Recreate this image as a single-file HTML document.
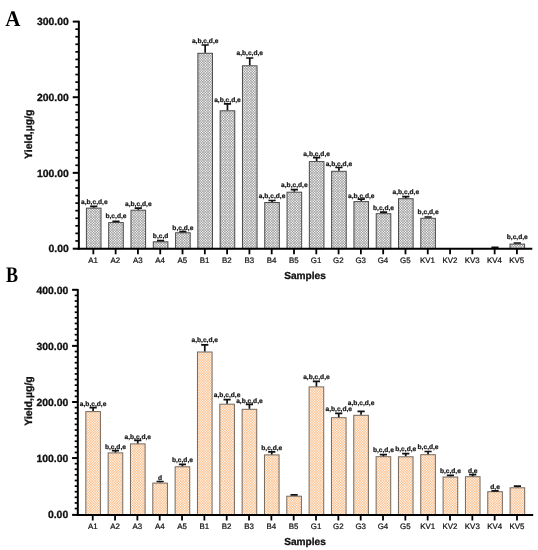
<!DOCTYPE html>
<html lang="en">
<head>
<meta charset="utf-8">
<title>Yield by sample</title>
<style>
html,body{margin:0;padding:0;background:#fff;}
body{width:538px;height:550px;overflow:hidden;}
svg{display:block;}
text{font-family:"Liberation Sans",Arial,sans-serif;fill:#111;text-rendering:geometricPrecision;}
.sig{font-size:6.65px;font-weight:bold;text-anchor:middle;stroke:#111;stroke-width:0.2px;}
.yl{font-size:10.4px;font-weight:bold;text-anchor:end;stroke:#111;stroke-width:0.3px;}
.xl{font-size:7.9px;text-anchor:middle;stroke:#111;stroke-width:0.22px;}
.ttl{font-size:10.5px;font-weight:bold;text-anchor:middle;stroke:#111;stroke-width:0.3px;}
.ttx{font-size:10.15px;}
.panel{font-family:"Liberation Serif","Times New Roman",serif;font-size:22.3px;font-weight:bold;text-anchor:start;fill:#000;}
</style>
</head>
<body>
<svg width="538" height="550" viewBox="0 0 538 550">
<defs>
<pattern id="pg" width="13" height="13" patternUnits="userSpaceOnUse">
<rect width="13" height="13" fill="#8c8c8c"/>
<path fill="#ffffff" d="M-0.90 0.00L0.00 -0.90L0.90 0.00L0.00 0.90ZM0.40 1.30L1.30 0.40L2.20 1.30L1.30 2.20ZM-0.90 2.60L0.00 1.70L0.90 2.60L0.00 3.50ZM0.40 3.90L1.30 3.00L2.20 3.90L1.30 4.80ZM-0.90 5.20L0.00 4.30L0.90 5.20L0.00 6.10ZM0.40 6.50L1.30 5.60L2.20 6.50L1.30 7.40ZM-0.90 7.80L0.00 6.90L0.90 7.80L0.00 8.70ZM0.40 9.10L1.30 8.20L2.20 9.10L1.30 10.00ZM-0.90 10.40L0.00 9.50L0.90 10.40L0.00 11.30ZM0.40 11.70L1.30 10.80L2.20 11.70L1.30 12.60ZM-0.90 13.00L0.00 12.10L0.90 13.00L0.00 13.90ZM1.70 0.00L2.60 -0.90L3.50 0.00L2.60 0.90ZM3.00 1.30L3.90 0.40L4.80 1.30L3.90 2.20ZM1.70 2.60L2.60 1.70L3.50 2.60L2.60 3.50ZM3.00 3.90L3.90 3.00L4.80 3.90L3.90 4.80ZM1.70 5.20L2.60 4.30L3.50 5.20L2.60 6.10ZM3.00 6.50L3.90 5.60L4.80 6.50L3.90 7.40ZM1.70 7.80L2.60 6.90L3.50 7.80L2.60 8.70ZM3.00 9.10L3.90 8.20L4.80 9.10L3.90 10.00ZM1.70 10.40L2.60 9.50L3.50 10.40L2.60 11.30ZM3.00 11.70L3.90 10.80L4.80 11.70L3.90 12.60ZM1.70 13.00L2.60 12.10L3.50 13.00L2.60 13.90ZM4.30 0.00L5.20 -0.90L6.10 0.00L5.20 0.90ZM5.60 1.30L6.50 0.40L7.40 1.30L6.50 2.20ZM4.30 2.60L5.20 1.70L6.10 2.60L5.20 3.50ZM5.60 3.90L6.50 3.00L7.40 3.90L6.50 4.80ZM4.30 5.20L5.20 4.30L6.10 5.20L5.20 6.10ZM5.60 6.50L6.50 5.60L7.40 6.50L6.50 7.40ZM4.30 7.80L5.20 6.90L6.10 7.80L5.20 8.70ZM5.60 9.10L6.50 8.20L7.40 9.10L6.50 10.00ZM4.30 10.40L5.20 9.50L6.10 10.40L5.20 11.30ZM5.60 11.70L6.50 10.80L7.40 11.70L6.50 12.60ZM4.30 13.00L5.20 12.10L6.10 13.00L5.20 13.90ZM6.90 0.00L7.80 -0.90L8.70 0.00L7.80 0.90ZM8.20 1.30L9.10 0.40L10.00 1.30L9.10 2.20ZM6.90 2.60L7.80 1.70L8.70 2.60L7.80 3.50ZM8.20 3.90L9.10 3.00L10.00 3.90L9.10 4.80ZM6.90 5.20L7.80 4.30L8.70 5.20L7.80 6.10ZM8.20 6.50L9.10 5.60L10.00 6.50L9.10 7.40ZM6.90 7.80L7.80 6.90L8.70 7.80L7.80 8.70ZM8.20 9.10L9.10 8.20L10.00 9.10L9.10 10.00ZM6.90 10.40L7.80 9.50L8.70 10.40L7.80 11.30ZM8.20 11.70L9.10 10.80L10.00 11.70L9.10 12.60ZM6.90 13.00L7.80 12.10L8.70 13.00L7.80 13.90ZM9.50 0.00L10.40 -0.90L11.30 0.00L10.40 0.90ZM10.80 1.30L11.70 0.40L12.60 1.30L11.70 2.20ZM9.50 2.60L10.40 1.70L11.30 2.60L10.40 3.50ZM10.80 3.90L11.70 3.00L12.60 3.90L11.70 4.80ZM9.50 5.20L10.40 4.30L11.30 5.20L10.40 6.10ZM10.80 6.50L11.70 5.60L12.60 6.50L11.70 7.40ZM9.50 7.80L10.40 6.90L11.30 7.80L10.40 8.70ZM10.80 9.10L11.70 8.20L12.60 9.10L11.70 10.00ZM9.50 10.40L10.40 9.50L11.30 10.40L10.40 11.30ZM10.80 11.70L11.70 10.80L12.60 11.70L11.70 12.60ZM9.50 13.00L10.40 12.10L11.30 13.00L10.40 13.90ZM12.10 0.00L13.00 -0.90L13.90 0.00L13.00 0.90ZM12.10 2.60L13.00 1.70L13.90 2.60L13.00 3.50ZM12.10 5.20L13.00 4.30L13.90 5.20L13.00 6.10ZM12.10 7.80L13.00 6.90L13.90 7.80L13.00 8.70ZM12.10 10.40L13.00 9.50L13.90 10.40L13.00 11.30ZM12.10 13.00L13.00 12.10L13.90 13.00L13.00 13.90Z"/>
</pattern>
<pattern id="po" width="13" height="13" patternUnits="userSpaceOnUse">
<rect width="13" height="13" fill="#fbb880"/>
<path fill="#fffcf8" d="M-0.90 0.00L0.00 -0.90L0.90 0.00L0.00 0.90ZM0.40 1.30L1.30 0.40L2.20 1.30L1.30 2.20ZM-0.90 2.60L0.00 1.70L0.90 2.60L0.00 3.50ZM0.40 3.90L1.30 3.00L2.20 3.90L1.30 4.80ZM-0.90 5.20L0.00 4.30L0.90 5.20L0.00 6.10ZM0.40 6.50L1.30 5.60L2.20 6.50L1.30 7.40ZM-0.90 7.80L0.00 6.90L0.90 7.80L0.00 8.70ZM0.40 9.10L1.30 8.20L2.20 9.10L1.30 10.00ZM-0.90 10.40L0.00 9.50L0.90 10.40L0.00 11.30ZM0.40 11.70L1.30 10.80L2.20 11.70L1.30 12.60ZM-0.90 13.00L0.00 12.10L0.90 13.00L0.00 13.90ZM1.70 0.00L2.60 -0.90L3.50 0.00L2.60 0.90ZM3.00 1.30L3.90 0.40L4.80 1.30L3.90 2.20ZM1.70 2.60L2.60 1.70L3.50 2.60L2.60 3.50ZM3.00 3.90L3.90 3.00L4.80 3.90L3.90 4.80ZM1.70 5.20L2.60 4.30L3.50 5.20L2.60 6.10ZM3.00 6.50L3.90 5.60L4.80 6.50L3.90 7.40ZM1.70 7.80L2.60 6.90L3.50 7.80L2.60 8.70ZM3.00 9.10L3.90 8.20L4.80 9.10L3.90 10.00ZM1.70 10.40L2.60 9.50L3.50 10.40L2.60 11.30ZM3.00 11.70L3.90 10.80L4.80 11.70L3.90 12.60ZM1.70 13.00L2.60 12.10L3.50 13.00L2.60 13.90ZM4.30 0.00L5.20 -0.90L6.10 0.00L5.20 0.90ZM5.60 1.30L6.50 0.40L7.40 1.30L6.50 2.20ZM4.30 2.60L5.20 1.70L6.10 2.60L5.20 3.50ZM5.60 3.90L6.50 3.00L7.40 3.90L6.50 4.80ZM4.30 5.20L5.20 4.30L6.10 5.20L5.20 6.10ZM5.60 6.50L6.50 5.60L7.40 6.50L6.50 7.40ZM4.30 7.80L5.20 6.90L6.10 7.80L5.20 8.70ZM5.60 9.10L6.50 8.20L7.40 9.10L6.50 10.00ZM4.30 10.40L5.20 9.50L6.10 10.40L5.20 11.30ZM5.60 11.70L6.50 10.80L7.40 11.70L6.50 12.60ZM4.30 13.00L5.20 12.10L6.10 13.00L5.20 13.90ZM6.90 0.00L7.80 -0.90L8.70 0.00L7.80 0.90ZM8.20 1.30L9.10 0.40L10.00 1.30L9.10 2.20ZM6.90 2.60L7.80 1.70L8.70 2.60L7.80 3.50ZM8.20 3.90L9.10 3.00L10.00 3.90L9.10 4.80ZM6.90 5.20L7.80 4.30L8.70 5.20L7.80 6.10ZM8.20 6.50L9.10 5.60L10.00 6.50L9.10 7.40ZM6.90 7.80L7.80 6.90L8.70 7.80L7.80 8.70ZM8.20 9.10L9.10 8.20L10.00 9.10L9.10 10.00ZM6.90 10.40L7.80 9.50L8.70 10.40L7.80 11.30ZM8.20 11.70L9.10 10.80L10.00 11.70L9.10 12.60ZM6.90 13.00L7.80 12.10L8.70 13.00L7.80 13.90ZM9.50 0.00L10.40 -0.90L11.30 0.00L10.40 0.90ZM10.80 1.30L11.70 0.40L12.60 1.30L11.70 2.20ZM9.50 2.60L10.40 1.70L11.30 2.60L10.40 3.50ZM10.80 3.90L11.70 3.00L12.60 3.90L11.70 4.80ZM9.50 5.20L10.40 4.30L11.30 5.20L10.40 6.10ZM10.80 6.50L11.70 5.60L12.60 6.50L11.70 7.40ZM9.50 7.80L10.40 6.90L11.30 7.80L10.40 8.70ZM10.80 9.10L11.70 8.20L12.60 9.10L11.70 10.00ZM9.50 10.40L10.40 9.50L11.30 10.40L10.40 11.30ZM10.80 11.70L11.70 10.80L12.60 11.70L11.70 12.60ZM9.50 13.00L10.40 12.10L11.30 13.00L10.40 13.90ZM12.10 0.00L13.00 -0.90L13.90 0.00L13.00 0.90ZM12.10 2.60L13.00 1.70L13.90 2.60L13.00 3.50ZM12.10 5.20L13.00 4.30L13.90 5.20L13.00 6.10ZM12.10 7.80L13.00 6.90L13.90 7.80L13.00 8.70ZM12.10 10.40L13.00 9.50L13.90 10.40L13.00 11.30ZM12.10 13.00L13.00 12.10L13.90 13.00L13.00 13.90Z"/>
</pattern>
</defs>
<rect width="538" height="550" fill="#fff"/>
<g id="chartA">
<rect x="86.40" y="208.15" width="14.60" height="40.55" fill="url(#pg)" stroke="#4a4a4a" stroke-width="1"/>
<path d="M93.70 207.65V206.30M90.10 206.30H97.30" stroke="#111" stroke-width="1.7" fill="none"/>
<text x="94.30" y="204" class="sig">a,b,c,d,e</text>
<rect x="108.69" y="222.60" width="14.60" height="26.10" fill="url(#pg)" stroke="#4a4a4a" stroke-width="1"/>
<path d="M115.99 222.10V221.30M112.39 221.30H119.59" stroke="#111" stroke-width="1.7" fill="none"/>
<text x="115.99" y="218" class="sig">b,c,d,e</text>
<rect x="130.99" y="210.20" width="14.60" height="38.50" fill="url(#pg)" stroke="#4a4a4a" stroke-width="1"/>
<path d="M138.29 209.70V208.20M134.69 208.20H141.89" stroke="#111" stroke-width="1.7" fill="none"/>
<text x="138.29" y="206" class="sig">a,b,c,d,e</text>
<rect x="153.28" y="241.80" width="14.60" height="6.90" fill="url(#pg)" stroke="#4a4a4a" stroke-width="1"/>
<path d="M160.58 241.30V240.60M156.98 240.60H164.18" stroke="#111" stroke-width="1.7" fill="none"/>
<text x="160.58" y="238" class="sig">b,c,d</text>
<rect x="175.58" y="232.80" width="14.60" height="15.90" fill="url(#pg)" stroke="#4a4a4a" stroke-width="1"/>
<path d="M182.88 232.30V231.70M179.28 231.70H186.48" stroke="#111" stroke-width="1.7" fill="none"/>
<text x="182.88" y="230" class="sig">b,c,d,e</text>
<rect x="197.87" y="53.30" width="14.60" height="195.40" fill="url(#pg)" stroke="#4a4a4a" stroke-width="1"/>
<path d="M205.17 52.80V45.00M201.57 45.00H208.77" stroke="#111" stroke-width="1.7" fill="none"/>
<text x="205.17" y="43" class="sig">a,b,c,d,e</text>
<rect x="220.16" y="110.80" width="14.60" height="137.90" fill="url(#pg)" stroke="#4a4a4a" stroke-width="1"/>
<path d="M227.46 110.30V103.90M223.86 103.90H231.06" stroke="#111" stroke-width="1.7" fill="none"/>
<text x="227.46" y="102" class="sig">a,b,c,d,e</text>
<rect x="242.46" y="65.80" width="14.60" height="182.90" fill="url(#pg)" stroke="#4a4a4a" stroke-width="1"/>
<path d="M249.76 65.30V58.00M246.16 58.00H253.36" stroke="#111" stroke-width="1.7" fill="none"/>
<text x="249.76" y="55" class="sig">a,b,c,d,e</text>
<rect x="264.75" y="202.50" width="14.60" height="46.20" fill="url(#pg)" stroke="#4a4a4a" stroke-width="1"/>
<path d="M272.05 202.00V200.50M268.45 200.50H275.65" stroke="#111" stroke-width="1.7" fill="none"/>
<text x="272.05" y="198" class="sig">a,b,c,d,e</text>
<rect x="287.05" y="192.20" width="14.60" height="56.50" fill="url(#pg)" stroke="#4a4a4a" stroke-width="1"/>
<path d="M294.35 191.70V189.60M290.75 189.60H297.95" stroke="#111" stroke-width="1.7" fill="none"/>
<text x="294.35" y="187" class="sig">a,b,c,d,e</text>
<rect x="309.34" y="161.60" width="14.60" height="87.10" fill="url(#pg)" stroke="#4a4a4a" stroke-width="1"/>
<path d="M316.64 161.10V157.60M313.04 157.60H320.24" stroke="#111" stroke-width="1.7" fill="none"/>
<text x="316.64" y="156" class="sig">a,b,c,d,e</text>
<rect x="331.63" y="171.30" width="14.60" height="77.40" fill="url(#pg)" stroke="#4a4a4a" stroke-width="1"/>
<path d="M338.93 170.80V167.50M335.33 167.50H342.53" stroke="#111" stroke-width="1.7" fill="none"/>
<text x="338.93" y="166" class="sig">a,b,c,d,e</text>
<rect x="353.93" y="201.60" width="14.60" height="47.10" fill="url(#pg)" stroke="#4a4a4a" stroke-width="1"/>
<path d="M361.23 201.10V199.10M357.63 199.10H364.83" stroke="#111" stroke-width="1.7" fill="none"/>
<text x="361.23" y="198" class="sig">a,b,c,d,e</text>
<rect x="376.22" y="213.70" width="14.60" height="35.00" fill="url(#pg)" stroke="#4a4a4a" stroke-width="1"/>
<path d="M383.52 213.20V212.10M379.92 212.10H387.12" stroke="#111" stroke-width="1.7" fill="none"/>
<text x="383.52" y="210" class="sig">b,c,d,e</text>
<rect x="398.52" y="198.70" width="14.60" height="50.00" fill="url(#pg)" stroke="#4a4a4a" stroke-width="1"/>
<path d="M405.82 198.20V196.60M402.22 196.60H409.42" stroke="#111" stroke-width="1.7" fill="none"/>
<text x="405.82" y="194" class="sig">a,b,c,d,e</text>
<rect x="420.81" y="218.30" width="14.60" height="30.40" fill="url(#pg)" stroke="#4a4a4a" stroke-width="1"/>
<path d="M428.11 217.80V217.00M424.51 217.00H431.71" stroke="#111" stroke-width="1.7" fill="none"/>
<text x="428.11" y="214" class="sig">b,c,d,e</text>
<path d="M494.99 248.70V247.30M491.39 247.30H498.59" stroke="#111" stroke-width="1.7" fill="none"/>
<rect x="509.99" y="244.10" width="14.60" height="4.60" fill="url(#pg)" stroke="#4a4a4a" stroke-width="1"/>
<path d="M517.29 243.60V243.00M513.69 243.00H520.89" stroke="#111" stroke-width="1.7" fill="none"/>
<text x="517.29" y="239" class="sig">b,c,d,e</text>
<path d="M78.85 20.80V249.70" stroke="#000" stroke-width="2" fill="none"/>
<path d="M77.85 248.70H532.30" stroke="#000" stroke-width="2" fill="none"/>
<path d="M72.75 248.70H78.85" stroke="#000" stroke-width="2"/>
<text x="68.80" y="252" class="yl">0.00</text>
<path d="M75.35 240.94H78.85" stroke="#000" stroke-width="1.7"/>
<path d="M75.35 233.37H78.85" stroke="#000" stroke-width="1.7"/>
<path d="M75.35 225.81H78.85" stroke="#000" stroke-width="1.7"/>
<path d="M75.35 218.25H78.85" stroke="#000" stroke-width="1.7"/>
<path d="M75.35 210.68H78.85" stroke="#000" stroke-width="1.7"/>
<path d="M75.35 203.12H78.85" stroke="#000" stroke-width="1.7"/>
<path d="M75.35 195.56H78.85" stroke="#000" stroke-width="1.7"/>
<path d="M75.35 187.99H78.85" stroke="#000" stroke-width="1.7"/>
<path d="M75.35 180.43H78.85" stroke="#000" stroke-width="1.7"/>
<path d="M72.75 172.87H78.85" stroke="#000" stroke-width="2"/>
<text x="68.80" y="177" class="yl">100.00</text>
<path d="M75.35 165.30H78.85" stroke="#000" stroke-width="1.7"/>
<path d="M75.35 157.74H78.85" stroke="#000" stroke-width="1.7"/>
<path d="M75.35 150.18H78.85" stroke="#000" stroke-width="1.7"/>
<path d="M75.35 142.61H78.85" stroke="#000" stroke-width="1.7"/>
<path d="M75.35 135.05H78.85" stroke="#000" stroke-width="1.7"/>
<path d="M75.35 127.49H78.85" stroke="#000" stroke-width="1.7"/>
<path d="M75.35 119.92H78.85" stroke="#000" stroke-width="1.7"/>
<path d="M75.35 112.36H78.85" stroke="#000" stroke-width="1.7"/>
<path d="M75.35 104.80H78.85" stroke="#000" stroke-width="1.7"/>
<path d="M72.75 97.23H78.85" stroke="#000" stroke-width="2"/>
<text x="68.80" y="101" class="yl">200.00</text>
<path d="M75.35 89.67H78.85" stroke="#000" stroke-width="1.7"/>
<path d="M75.35 82.11H78.85" stroke="#000" stroke-width="1.7"/>
<path d="M75.35 74.54H78.85" stroke="#000" stroke-width="1.7"/>
<path d="M75.35 66.98H78.85" stroke="#000" stroke-width="1.7"/>
<path d="M75.35 59.42H78.85" stroke="#000" stroke-width="1.7"/>
<path d="M75.35 51.85H78.85" stroke="#000" stroke-width="1.7"/>
<path d="M75.35 44.29H78.85" stroke="#000" stroke-width="1.7"/>
<path d="M75.35 36.73H78.85" stroke="#000" stroke-width="1.7"/>
<path d="M75.35 29.16H78.85" stroke="#000" stroke-width="1.7"/>
<path d="M72.75 21.60H78.85" stroke="#000" stroke-width="2"/>
<text x="68.80" y="25" class="yl">300.00</text>
<path d="M93.35 248.70V254.30" stroke="#000" stroke-width="1.8"/>
<text x="93.15" y="263" class="xl">A1</text>
<path d="M115.64 248.70V254.30" stroke="#000" stroke-width="1.8"/>
<text x="115.44" y="263" class="xl">A2</text>
<path d="M137.94 248.70V254.30" stroke="#000" stroke-width="1.8"/>
<text x="137.74" y="263" class="xl">A3</text>
<path d="M160.23 248.70V254.30" stroke="#000" stroke-width="1.8"/>
<text x="160.03" y="263" class="xl">A4</text>
<path d="M182.53 248.70V254.30" stroke="#000" stroke-width="1.8"/>
<text x="182.33" y="263" class="xl">A5</text>
<path d="M204.82 248.70V254.30" stroke="#000" stroke-width="1.8"/>
<text x="204.62" y="263" class="xl">B1</text>
<path d="M227.11 248.70V254.30" stroke="#000" stroke-width="1.8"/>
<text x="226.91" y="263" class="xl">B2</text>
<path d="M249.41 248.70V254.30" stroke="#000" stroke-width="1.8"/>
<text x="249.21" y="263" class="xl">B3</text>
<path d="M271.70 248.70V254.30" stroke="#000" stroke-width="1.8"/>
<text x="271.50" y="263" class="xl">B4</text>
<path d="M294.00 248.70V254.30" stroke="#000" stroke-width="1.8"/>
<text x="293.80" y="263" class="xl">B5</text>
<path d="M316.29 248.70V254.30" stroke="#000" stroke-width="1.8"/>
<text x="316.09" y="263" class="xl">G1</text>
<path d="M338.58 248.70V254.30" stroke="#000" stroke-width="1.8"/>
<text x="338.38" y="263" class="xl">G2</text>
<path d="M360.88 248.70V254.30" stroke="#000" stroke-width="1.8"/>
<text x="360.68" y="263" class="xl">G3</text>
<path d="M383.17 248.70V254.30" stroke="#000" stroke-width="1.8"/>
<text x="382.97" y="263" class="xl">G4</text>
<path d="M405.47 248.70V254.30" stroke="#000" stroke-width="1.8"/>
<text x="405.27" y="263" class="xl">G5</text>
<path d="M427.76 248.70V254.30" stroke="#000" stroke-width="1.8"/>
<text x="427.56" y="263" class="xl">KV1</text>
<path d="M450.05 248.70V254.30" stroke="#000" stroke-width="1.8"/>
<text x="449.85" y="263" class="xl">KV2</text>
<path d="M472.35 248.70V254.30" stroke="#000" stroke-width="1.8"/>
<text x="472.15" y="263" class="xl">KV3</text>
<path d="M494.64 248.70V254.30" stroke="#000" stroke-width="1.8"/>
<text x="494.44" y="263" class="xl">KV4</text>
<path d="M516.94 248.70V254.30" stroke="#000" stroke-width="1.8"/>
<text x="516.74" y="263" class="xl">KV5</text>
<text x="305.00" y="279" class="ttl ttx">Samples</text>
<text transform="translate(32.20 134.20) rotate(-90)" class="ttl">Yield,µg/g</text>
<text transform="translate(5.2 25.8) scale(0.945 1)" class="panel">A</text>
</g>
<g id="chartB">
<rect x="85.82" y="411.60" width="14.60" height="103.30" fill="url(#po)" stroke="#75685c" stroke-width="1"/>
<path d="M93.12 411.10V407.60M89.52 407.60H96.72" stroke="#111" stroke-width="1.7" fill="none"/>
<text x="93.12" y="406" class="sig">a,b,c,d,e</text>
<rect x="108.15" y="452.90" width="14.60" height="62.00" fill="url(#po)" stroke="#75685c" stroke-width="1"/>
<path d="M115.45 452.40V450.70M111.85 450.70H119.05" stroke="#111" stroke-width="1.7" fill="none"/>
<text x="115.45" y="449" class="sig">b,c,d,e</text>
<rect x="130.48" y="443.90" width="14.60" height="71.00" fill="url(#po)" stroke="#75685c" stroke-width="1"/>
<path d="M137.78 443.40V440.40M134.18 440.40H141.38" stroke="#111" stroke-width="1.7" fill="none"/>
<text x="137.78" y="439" class="sig">a,b,c,d,e</text>
<rect x="152.81" y="483.10" width="14.60" height="31.80" fill="url(#po)" stroke="#75685c" stroke-width="1"/>
<path d="M160.11 482.60V481.50M156.51 481.50H163.71" stroke="#111" stroke-width="1.7" fill="none"/>
<text x="160.11" y="480" class="sig">d</text>
<rect x="175.14" y="466.80" width="14.60" height="48.10" fill="url(#po)" stroke="#75685c" stroke-width="1"/>
<path d="M182.44 466.30V464.30M178.84 464.30H186.04" stroke="#111" stroke-width="1.7" fill="none"/>
<text x="182.44" y="462" class="sig">b,c,d,e</text>
<rect x="197.47" y="352.00" width="14.60" height="162.90" fill="url(#po)" stroke="#75685c" stroke-width="1"/>
<path d="M204.77 351.50V344.80M201.17 344.80H208.37" stroke="#111" stroke-width="1.7" fill="none"/>
<text x="204.77" y="342" class="sig">a,b,c,d,e</text>
<rect x="219.80" y="404.20" width="14.60" height="110.70" fill="url(#po)" stroke="#75685c" stroke-width="1"/>
<path d="M227.10 403.70V399.70M223.50 399.70H230.70" stroke="#111" stroke-width="1.7" fill="none"/>
<text x="227.10" y="397" class="sig">a,b,c,d,e</text>
<rect x="242.13" y="409.30" width="14.60" height="105.60" fill="url(#po)" stroke="#75685c" stroke-width="1"/>
<path d="M249.43 408.80V404.40M245.83 404.40H253.03" stroke="#111" stroke-width="1.7" fill="none"/>
<text x="249.43" y="403" class="sig">a,b,c,d,e</text>
<rect x="264.46" y="454.90" width="14.60" height="60.00" fill="url(#po)" stroke="#75685c" stroke-width="1"/>
<path d="M271.76 454.40V451.80M268.16 451.80H275.36" stroke="#111" stroke-width="1.7" fill="none"/>
<text x="271.76" y="450" class="sig">b,c,d,e</text>
<rect x="286.79" y="496.20" width="14.60" height="18.70" fill="url(#po)" stroke="#75685c" stroke-width="1"/>
<path d="M294.09 495.70V494.80M290.49 494.80H297.69" stroke="#111" stroke-width="1.7" fill="none"/>
<rect x="309.12" y="386.90" width="14.60" height="128.00" fill="url(#po)" stroke="#75685c" stroke-width="1"/>
<path d="M316.42 386.40V381.40M312.82 381.40H320.02" stroke="#111" stroke-width="1.7" fill="none"/>
<text x="316.42" y="379" class="sig">a,b,c,d,e</text>
<rect x="331.45" y="417.70" width="14.60" height="97.20" fill="url(#po)" stroke="#75685c" stroke-width="1"/>
<path d="M338.75 417.20V413.30M335.15 413.30H342.35" stroke="#111" stroke-width="1.7" fill="none"/>
<text x="338.75" y="411" class="sig">a,b,c,d,e</text>
<rect x="353.78" y="415.30" width="14.60" height="99.60" fill="url(#po)" stroke="#75685c" stroke-width="1"/>
<path d="M361.08 414.80V411.30M357.48 411.30H364.68" stroke="#111" stroke-width="1.7" fill="none"/>
<text x="361.08" y="405" class="sig">a,b,c,d,e</text>
<rect x="376.11" y="456.70" width="14.60" height="58.20" fill="url(#po)" stroke="#75685c" stroke-width="1"/>
<path d="M383.41 456.20V454.60M379.81 454.60H387.01" stroke="#111" stroke-width="1.7" fill="none"/>
<text x="383.41" y="452" class="sig">b,c,d,e</text>
<rect x="398.44" y="456.80" width="14.60" height="58.10" fill="url(#po)" stroke="#75685c" stroke-width="1"/>
<path d="M405.74 456.30V453.70M402.14 453.70H409.34" stroke="#111" stroke-width="1.7" fill="none"/>
<text x="405.74" y="451" class="sig">b,c,d,e</text>
<rect x="420.77" y="454.70" width="14.60" height="60.20" fill="url(#po)" stroke="#75685c" stroke-width="1"/>
<path d="M428.07 454.20V451.50M424.47 451.50H431.67" stroke="#111" stroke-width="1.7" fill="none"/>
<text x="428.07" y="449" class="sig">b,c,d,e</text>
<rect x="443.10" y="477.00" width="14.60" height="37.90" fill="url(#po)" stroke="#75685c" stroke-width="1"/>
<path d="M450.40 476.50V475.30M446.80 475.30H454.00" stroke="#111" stroke-width="1.7" fill="none"/>
<text x="450.40" y="473" class="sig">b,c,d,e</text>
<rect x="465.43" y="476.70" width="14.60" height="38.20" fill="url(#po)" stroke="#75685c" stroke-width="1"/>
<path d="M472.73 476.20V474.70M469.13 474.70H476.33" stroke="#111" stroke-width="1.7" fill="none"/>
<text x="472.73" y="473" class="sig">d,e</text>
<rect x="487.76" y="491.70" width="14.60" height="23.20" fill="url(#po)" stroke="#75685c" stroke-width="1"/>
<path d="M495.06 491.20V490.80M491.46 490.80H498.66" stroke="#111" stroke-width="1.7" fill="none"/>
<text x="495.06" y="489" class="sig">d,e</text>
<rect x="510.09" y="487.80" width="14.60" height="27.10" fill="url(#po)" stroke="#75685c" stroke-width="1"/>
<path d="M517.39 487.30V486.10M513.79 486.10H520.99" stroke="#111" stroke-width="1.7" fill="none"/>
<path d="M77.80 289.00V515.90" stroke="#000" stroke-width="2" fill="none"/>
<path d="M76.80 514.90H533.20" stroke="#000" stroke-width="2" fill="none"/>
<path d="M72.10 514.90H77.80" stroke="#000" stroke-width="2"/>
<text x="68.20" y="518" class="yl">0.00</text>
<path d="M74.70 508.54H77.80" stroke="#000" stroke-width="1.7"/>
<path d="M74.70 502.93H77.80" stroke="#000" stroke-width="1.7"/>
<path d="M74.70 497.32H77.80" stroke="#000" stroke-width="1.7"/>
<path d="M74.70 491.71H77.80" stroke="#000" stroke-width="1.7"/>
<path d="M74.70 486.11H77.80" stroke="#000" stroke-width="1.7"/>
<path d="M74.70 480.50H77.80" stroke="#000" stroke-width="1.7"/>
<path d="M74.70 474.89H77.80" stroke="#000" stroke-width="1.7"/>
<path d="M74.70 469.28H77.80" stroke="#000" stroke-width="1.7"/>
<path d="M74.70 463.67H77.80" stroke="#000" stroke-width="1.7"/>
<path d="M72.10 458.06H77.80" stroke="#000" stroke-width="2"/>
<text x="68.20" y="462" class="yl">100.00</text>
<path d="M74.70 452.45H77.80" stroke="#000" stroke-width="1.7"/>
<path d="M74.70 446.85H77.80" stroke="#000" stroke-width="1.7"/>
<path d="M74.70 441.24H77.80" stroke="#000" stroke-width="1.7"/>
<path d="M74.70 435.63H77.80" stroke="#000" stroke-width="1.7"/>
<path d="M74.70 430.02H77.80" stroke="#000" stroke-width="1.7"/>
<path d="M74.70 424.41H77.80" stroke="#000" stroke-width="1.7"/>
<path d="M74.70 418.80H77.80" stroke="#000" stroke-width="1.7"/>
<path d="M74.70 413.19H77.80" stroke="#000" stroke-width="1.7"/>
<path d="M74.70 407.58H77.80" stroke="#000" stroke-width="1.7"/>
<path d="M72.10 401.98H77.80" stroke="#000" stroke-width="2"/>
<text x="68.20" y="406" class="yl">200.00</text>
<path d="M74.70 396.37H77.80" stroke="#000" stroke-width="1.7"/>
<path d="M74.70 390.76H77.80" stroke="#000" stroke-width="1.7"/>
<path d="M74.70 385.15H77.80" stroke="#000" stroke-width="1.7"/>
<path d="M74.70 379.54H77.80" stroke="#000" stroke-width="1.7"/>
<path d="M74.70 373.93H77.80" stroke="#000" stroke-width="1.7"/>
<path d="M74.70 368.32H77.80" stroke="#000" stroke-width="1.7"/>
<path d="M74.70 362.71H77.80" stroke="#000" stroke-width="1.7"/>
<path d="M74.70 357.11H77.80" stroke="#000" stroke-width="1.7"/>
<path d="M74.70 351.50H77.80" stroke="#000" stroke-width="1.7"/>
<path d="M72.10 345.89H77.80" stroke="#000" stroke-width="2"/>
<text x="68.20" y="350" class="yl">300.00</text>
<path d="M74.70 340.28H77.80" stroke="#000" stroke-width="1.7"/>
<path d="M74.70 334.67H77.80" stroke="#000" stroke-width="1.7"/>
<path d="M74.70 329.06H77.80" stroke="#000" stroke-width="1.7"/>
<path d="M74.70 323.45H77.80" stroke="#000" stroke-width="1.7"/>
<path d="M74.70 317.84H77.80" stroke="#000" stroke-width="1.7"/>
<path d="M74.70 312.24H77.80" stroke="#000" stroke-width="1.7"/>
<path d="M74.70 306.63H77.80" stroke="#000" stroke-width="1.7"/>
<path d="M74.70 301.02H77.80" stroke="#000" stroke-width="1.7"/>
<path d="M74.70 295.41H77.80" stroke="#000" stroke-width="1.7"/>
<path d="M72.10 289.80H77.80" stroke="#000" stroke-width="2"/>
<text x="68.20" y="294" class="yl">400.00</text>
<path d="M92.72 514.90V520.50" stroke="#000" stroke-width="1.8"/>
<text x="92.72" y="529" class="xl">A1</text>
<path d="M115.05 514.90V520.50" stroke="#000" stroke-width="1.8"/>
<text x="115.05" y="529" class="xl">A2</text>
<path d="M137.38 514.90V520.50" stroke="#000" stroke-width="1.8"/>
<text x="137.38" y="529" class="xl">A3</text>
<path d="M159.71 514.90V520.50" stroke="#000" stroke-width="1.8"/>
<text x="159.71" y="529" class="xl">A4</text>
<path d="M182.04 514.90V520.50" stroke="#000" stroke-width="1.8"/>
<text x="182.04" y="529" class="xl">A5</text>
<path d="M204.37 514.90V520.50" stroke="#000" stroke-width="1.8"/>
<text x="204.37" y="529" class="xl">B1</text>
<path d="M226.70 514.90V520.50" stroke="#000" stroke-width="1.8"/>
<text x="226.70" y="529" class="xl">B2</text>
<path d="M249.03 514.90V520.50" stroke="#000" stroke-width="1.8"/>
<text x="249.03" y="529" class="xl">B3</text>
<path d="M271.36 514.90V520.50" stroke="#000" stroke-width="1.8"/>
<text x="271.36" y="529" class="xl">B4</text>
<path d="M293.69 514.90V520.50" stroke="#000" stroke-width="1.8"/>
<text x="293.69" y="529" class="xl">B5</text>
<path d="M316.02 514.90V520.50" stroke="#000" stroke-width="1.8"/>
<text x="316.02" y="529" class="xl">G1</text>
<path d="M338.35 514.90V520.50" stroke="#000" stroke-width="1.8"/>
<text x="338.35" y="529" class="xl">G2</text>
<path d="M360.68 514.90V520.50" stroke="#000" stroke-width="1.8"/>
<text x="360.68" y="529" class="xl">G3</text>
<path d="M383.01 514.90V520.50" stroke="#000" stroke-width="1.8"/>
<text x="383.01" y="529" class="xl">G4</text>
<path d="M405.34 514.90V520.50" stroke="#000" stroke-width="1.8"/>
<text x="405.34" y="529" class="xl">G5</text>
<path d="M427.67 514.90V520.50" stroke="#000" stroke-width="1.8"/>
<text x="427.67" y="529" class="xl">KV1</text>
<path d="M450.00 514.90V520.50" stroke="#000" stroke-width="1.8"/>
<text x="450.00" y="529" class="xl">KV2</text>
<path d="M472.33 514.90V520.50" stroke="#000" stroke-width="1.8"/>
<text x="472.33" y="529" class="xl">KV3</text>
<path d="M494.66 514.90V520.50" stroke="#000" stroke-width="1.8"/>
<text x="494.66" y="529" class="xl">KV4</text>
<path d="M516.99 514.90V520.50" stroke="#000" stroke-width="1.8"/>
<text x="516.99" y="529" class="xl">KV5</text>
<text x="305.00" y="545" class="ttl ttx">Samples</text>
<text transform="translate(32.20 401.00) rotate(-90)" class="ttl">Yield,µg/g</text>
<text transform="translate(5.9 281.5) scale(0.81 1)" class="panel">B</text>
</g>
</svg>
</body>
</html>
